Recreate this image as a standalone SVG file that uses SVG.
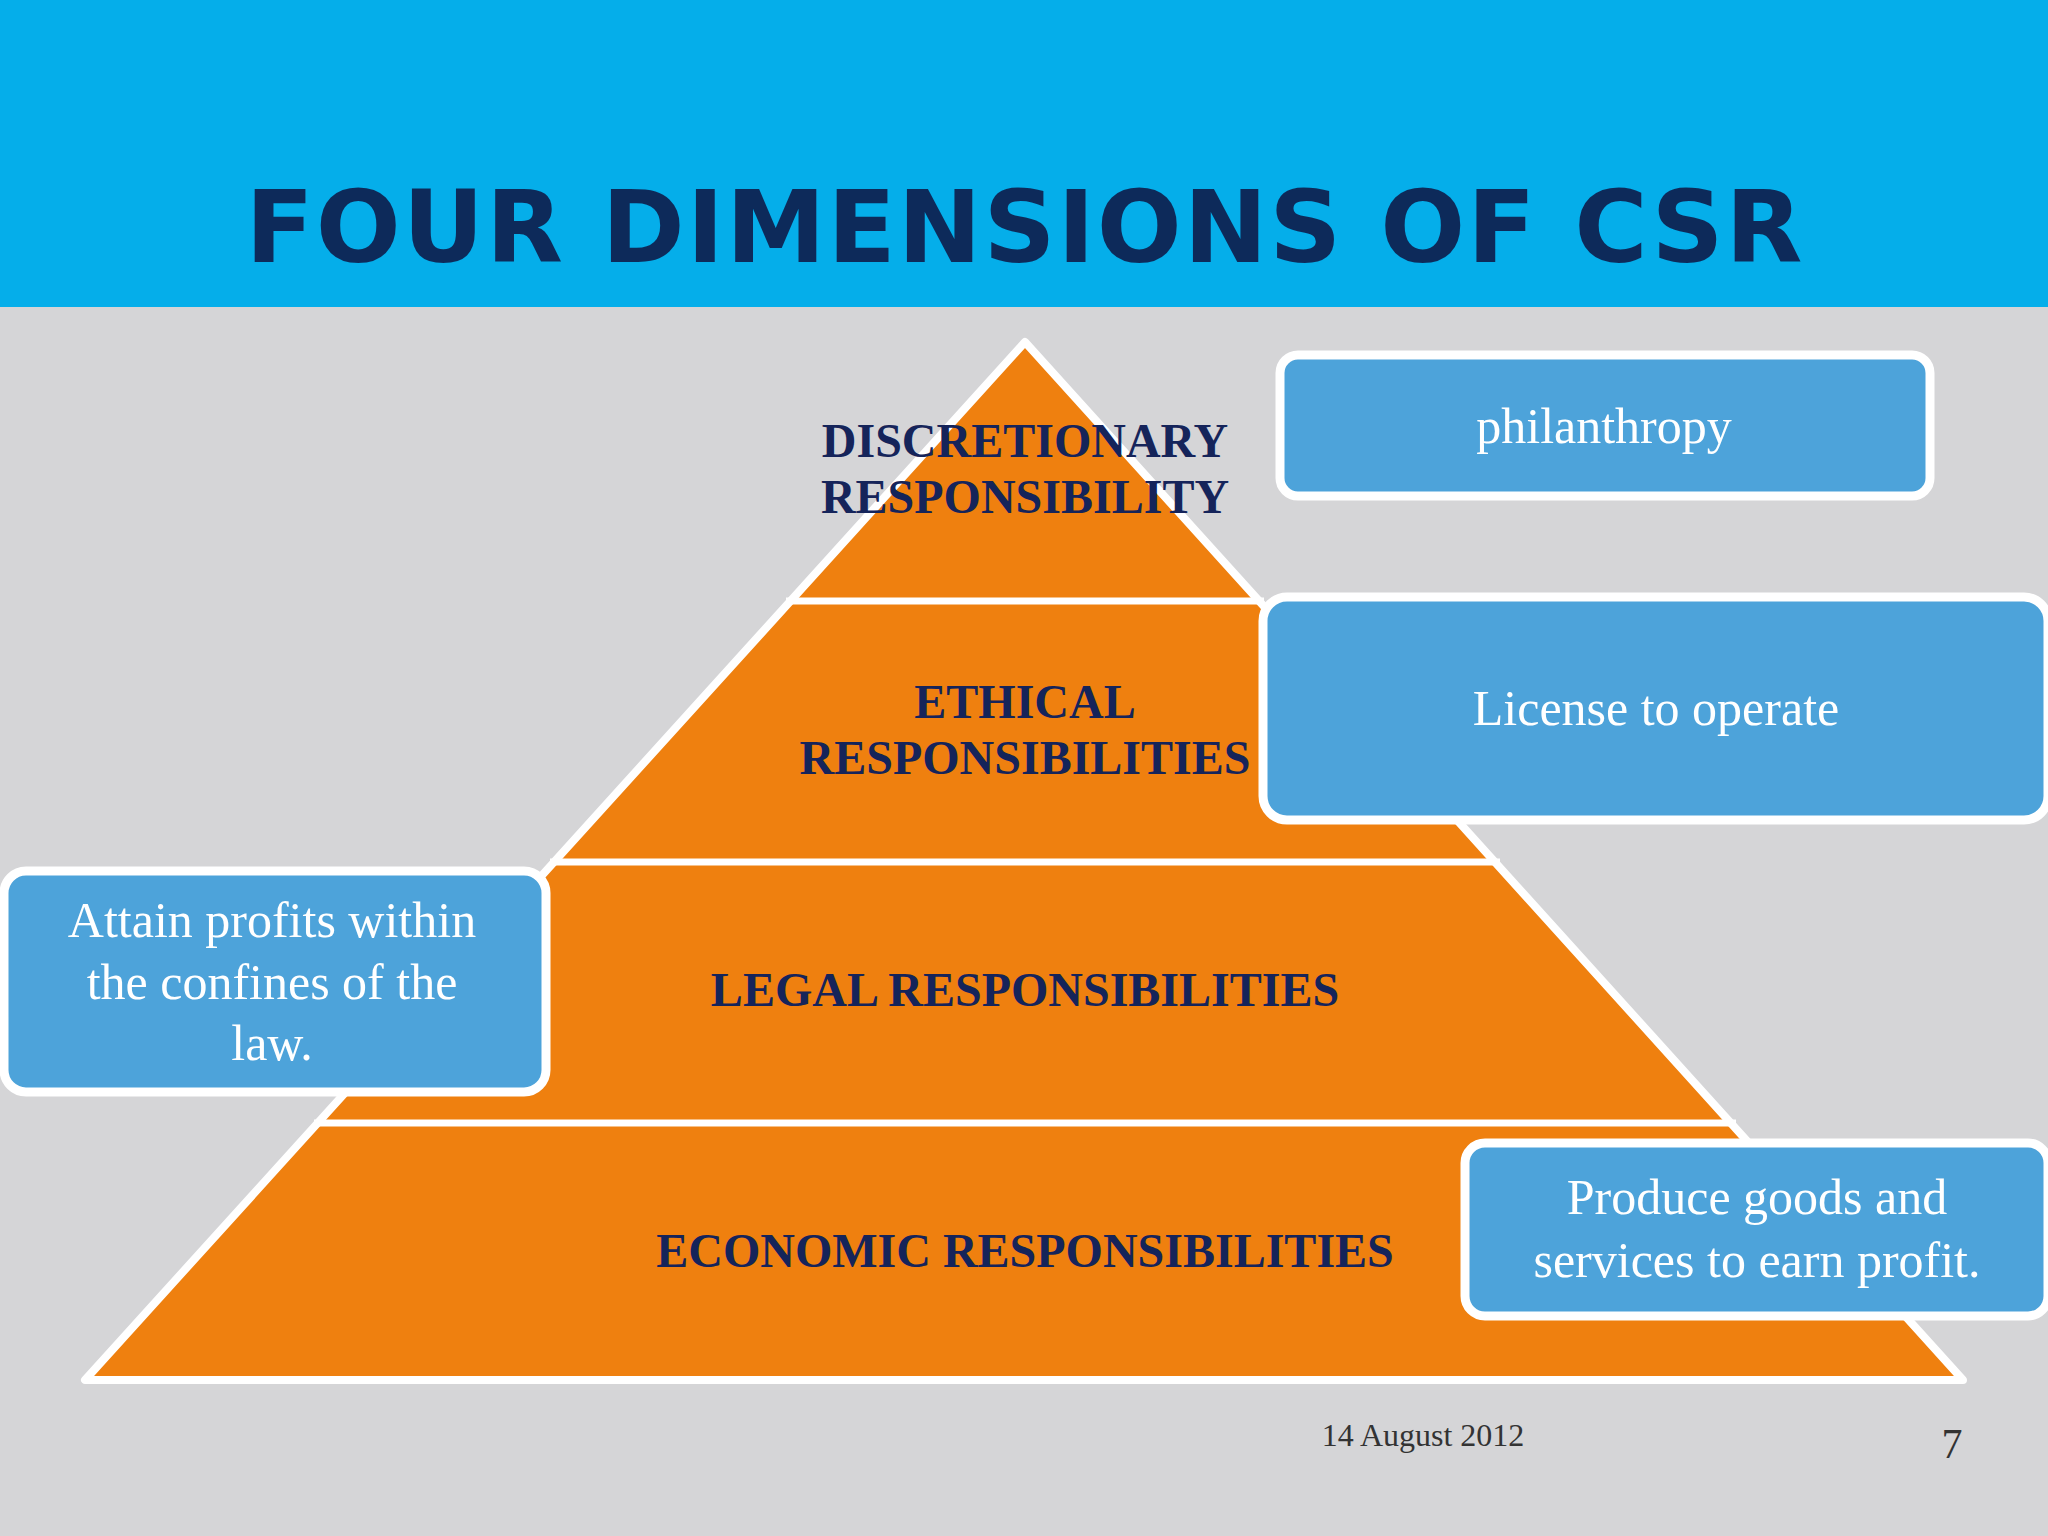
<svg xmlns="http://www.w3.org/2000/svg" width="2048" height="1536" viewBox="0 0 2048 1536">
<style>
.tier{font-family:"Liberation Serif",serif;font-weight:bold;font-size:48px;fill:#15245A;text-anchor:middle}
.box{fill:#4DA3DA;stroke:#FFFFFF;stroke-width:9}
.bt{font-family:"Liberation Serif",serif;font-size:50px;fill:#FFFFFF;text-anchor:middle}
</style>
<rect x="0" y="0" width="2048" height="1536" fill="#D5D5D7"/>
<rect x="0" y="0" width="2048" height="307" fill="#05AEEA"/>
<text x="1025" y="262" font-family="DejaVu Sans,sans-serif" font-weight="bold" font-size="100" fill="#0D2A5A" text-anchor="middle" letter-spacing="2">FOUR DIMENSIONS OF CSR</text>
<g id="pyramid">
<polygon points="1025,342 85,1380 1963,1380" fill="#EF800F" stroke="#FFFFFF" stroke-width="8" stroke-linejoin="round"/>
<line x1="786" y1="601" x2="1264" y2="601" stroke="#FFFFFF" stroke-width="7"/>
<line x1="550" y1="862" x2="1500" y2="862" stroke="#FFFFFF" stroke-width="7"/>
<line x1="314" y1="1123" x2="1736" y2="1123" stroke="#FFFFFF" stroke-width="7"/>
</g>
<g id="tier-discretionary"><text class="tier" x="1025" y="457">DISCRETIONARY</text><text class="tier" x="1025" y="513">RESPONSIBILITY</text></g>
<g id="tier-ethical"><text class="tier" x="1025" y="718">ETHICAL</text><text class="tier" x="1025" y="774">RESPONSIBILITIES</text></g>
<g id="tier-legal"><text class="tier" x="1025" y="1006">LEGAL  RESPONSIBILITIES</text></g>
<g id="tier-economic"><text class="tier" x="1025" y="1267">ECONOMIC RESPONSIBILITIES</text></g>
<g id="box-philanthropy"><rect class="box" x="1280" y="355" width="650" height="141" rx="18"/><text class="bt" x="1604" y="443">philanthropy</text></g>
<g id="box-license"><rect class="box" x="1263" y="597" width="785" height="223" rx="24"/><text class="bt" x="1656" y="725">License to  operate</text></g>
<g id="box-attain"><rect class="box" x="4" y="871" width="542" height="221" rx="22"/><text class="bt" x="272" y="937">Attain  profits within</text><text class="bt" x="272" y="999">the  confines  of the</text><text class="bt" x="272" y="1060">law.</text></g>
<g id="box-produce"><rect class="box" x="1465" y="1143" width="583" height="173" rx="20"/><text class="bt" x="1757" y="1214">Produce goods and</text><text class="bt" x="1757" y="1277">services to earn profit.</text></g>
<text x="1423" y="1446" font-family="Liberation Serif,serif" font-size="32" fill="#333333" text-anchor="middle">14 August 2012</text>
<text x="1952" y="1458" font-family="Liberation Serif,serif" font-size="42" fill="#333333" text-anchor="middle">7</text>
</svg>
